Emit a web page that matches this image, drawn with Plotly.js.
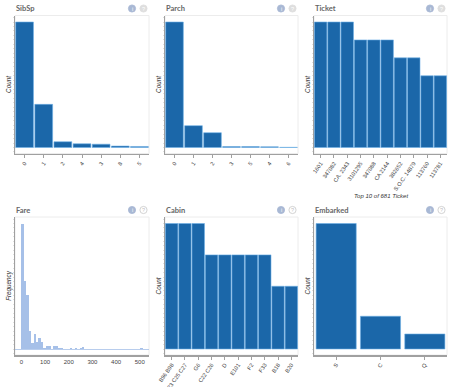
<!DOCTYPE html>
<html>
<head>
<meta charset="utf-8">
<script src="https://cdn.plot.ly/plotly-3.0.1.min.js"></script>
<style>html,body{margin:0;padding:0;background:#fff;overflow:hidden}</style>
</head>
<body>
<div id="chart" style="width:474px;height:387px"></div>
<script>
// ---- data ----
const sibspCats = ['0','1','2','4','3','8','5'];
const sibspVals = [608,209,28,18,16,7,5];
const parchCats = ['0','1','2','3','5','4','6'];
const parchVals = [678,118,80,5,5,4,1];
const ticketCats = ['1601','347082','CA. 2343','3101295','347088','CA 2144','382652','S.O.C. 14879','113760','113781'];
const ticketVals = [7,7,7,6,6,6,5,5,4,4];
const cabinCats = ['B96 B98','C23 C25 C27','G6','C22 C26','D','E101','F2','F33','B18','B20'];
const cabinVals = [4,4,4,3,3,3,3,3,2,2];
const embarkedCats = ['S','C','Q'];
const embarkedVals = [644,168,77];
const fareBinCenters = [5,15.4,25.6,35.9,46.1,56.4,66.6,76.9,87.1,97.4,107.6,117.9,128.1,138.4,148.6,158.9,169.1,179.4,189.6,199.9,210.1,220.4,230.6,240.9,251.1,261.4,507];
const fareCounts = [336,181,145,49,15,39,18,29,18,3,7,7,1,7,9,2,2,1,1,0,3,1,3,1,4,5,3];
const fareTickVals = [0,100,200,300,400,500];

const titles = ['SibSp','Parch','Ticket','Fare','Cabin','Embarked'];

// ---- style / layout ----
const W = 474, H = 387;
const cols = [[15,149],[165,298],[314,447]];
const rows = [[15.5,153.5],[217,355]];
const BLUE = '#1b67a9', EDGE = '#6fb0e6', LIGHT = '#a6c0e8', AXIS = '#a0a0a0';
const FONT = '"Liberation Sans", Arial, sans-serif';

const panels = [
  {c:0,r:0,x:sibspCats,y:sibspVals,yt:'Count',w:0.93},
  {c:1,r:0,x:parchCats,y:parchVals,yt:'Count',w:0.93},
  {c:2,r:0,x:ticketCats,y:ticketVals,yt:'Count',w:0.94,xt:'Top 10 of 681 Ticket'},
  {c:0,r:1,x:fareBinCenters,y:fareCounts,yt:'Frequency',w:10.25,fare:true},
  {c:1,r:1,x:cabinCats,y:cabinVals,yt:'Count',w:0.94},
  {c:2,r:1,x:embarkedCats,y:embarkedVals,yt:'Count',w:0.905}
];

const data = [], shapes = [], annotations = [];
const layout = {
  width:W, height:H, margin:{l:0,r:0,t:0,b:0},
  paper_bgcolor:'#fff', plot_bgcolor:'#fff', showlegend:false,
  font:{family:FONT,size:6,color:'#444'}, bargap:0
};

panels.forEach((p,i)=>{
  const n = i===0 ? '' : String(i+1);
  const [x0,x1] = cols[p.c], [y0,y1] = rows[p.r];
  data.push({
    type:'bar', x:p.x, y:p.y, width:p.w, xaxis:'x'+n, yaxis:'y'+n,
    marker:{color:p.fare?LIGHT:BLUE, line:{color:p.fare?LIGHT:EDGE, width:p.fare?0:0.6}},
    hoverinfo:'x+y'
  });
  const maxV = Math.max(...p.y), k = maxV/125.5;
  layout['xaxis'+n] = Object.assign({
    domain:[x0/W,x1/W], anchor:'y'+n, showgrid:false, zeroline:false,
    showline:true, linecolor:AXIS, linewidth:1.5,
    tickfont:{size:p.fare?6:5.6,color:'#444',family:FONT}
  }, p.fare ? {
    type:'linear', range:[-27,539], tickvals:fareTickVals, ticks:'', tickangle:0
  } : {
    type:'category', categoryorder:'array', categoryarray:p.x, range:[-0.5,p.x.length-0.5],
    ticks:'outside', ticklen:3, tickcolor:'#888', tickwidth:0.8, tickangle:-55
  });
  layout['yaxis'+n] = {
    domain:[1-y1/H,1-y0/H], anchor:'x'+n, range:[-6*k,maxV+6.5*k],
    showgrid:false, showticklabels:false, showline:true, linecolor:AXIS, linewidth:1.5,
    zeroline:!!p.fare, zerolinecolor:LIGHT, zerolinewidth:0.8,
    ticks:'outside', ticklen:1, tickcolor:'#ccc', tickwidth:0.6, dtick:maxV/28, tick0:0,
    title:{text:'<i>'+p.yt+'</i>',standoff:0,font:{size:6.3,color:'#333',family:FONT}}
  };
  if (p.xt) {
    annotations.push({xref:'paper',yref:'paper',x:(x0+x1)/2/W,y:1-196/H,xanchor:'center',yanchor:'middle',showarrow:false,
      text:'<i>'+p.xt+'</i>',font:{size:6,color:'#333',family:FONT}});
  }
  // panel border
  shapes.push({type:'rect',xref:'paper',yref:'paper',layer:'below',
    x0:x0/W,x1:x1/W,y0:1-y1/H,y1:1-y0/H,line:{color:'#ececec',width:1},fillcolor:'rgba(0,0,0,0)'});
  // panel title
  const ty = (y0-7);
  annotations.push({xref:'paper',yref:'paper',x:(x0-1)/W,y:1-ty/H,xanchor:'left',yanchor:'middle',showarrow:false,
    text:'<b>'+titles[i]+'</b>',font:{size:7.5,color:'#666',family:'Lato, sans-serif'}});
  // help icons
  const ix = [x1-17,x1-5.5];
  const fill = ['#a8b8d4', p.r===0 ? '#dedede' : '#ffffff'];
  const stroke = ['#a8b8d4', p.r===0 ? '#dedede' : '#c8c8c8'];
  const sym = ['i','?'];
  ix.forEach((cx,j)=>{
    shapes.push({type:'circle',xref:'paper',yref:'paper',x0:(cx-3.6)/W,x1:(cx+3.6)/W,y0:1-(ty+3.6)/H,y1:1-(ty-3.6)/H,
      line:{color:stroke[j],width:0.8},fillcolor:fill[j]});
    annotations.push({xref:'paper',yref:'paper',x:cx/W,y:1-ty/H,xanchor:'center',yanchor:'middle',showarrow:false,
      text:sym[j],font:{size:5.5,color:j===0?'#fff':(p.r===0?'#fff':'#c0c0c0'),family:FONT}});
  });
});
layout.shapes = shapes;
layout.annotations = annotations;
Plotly.newPlot('chart',data,layout,{displayModeBar:false,staticPlot:true});
</script>
</body>
</html>
